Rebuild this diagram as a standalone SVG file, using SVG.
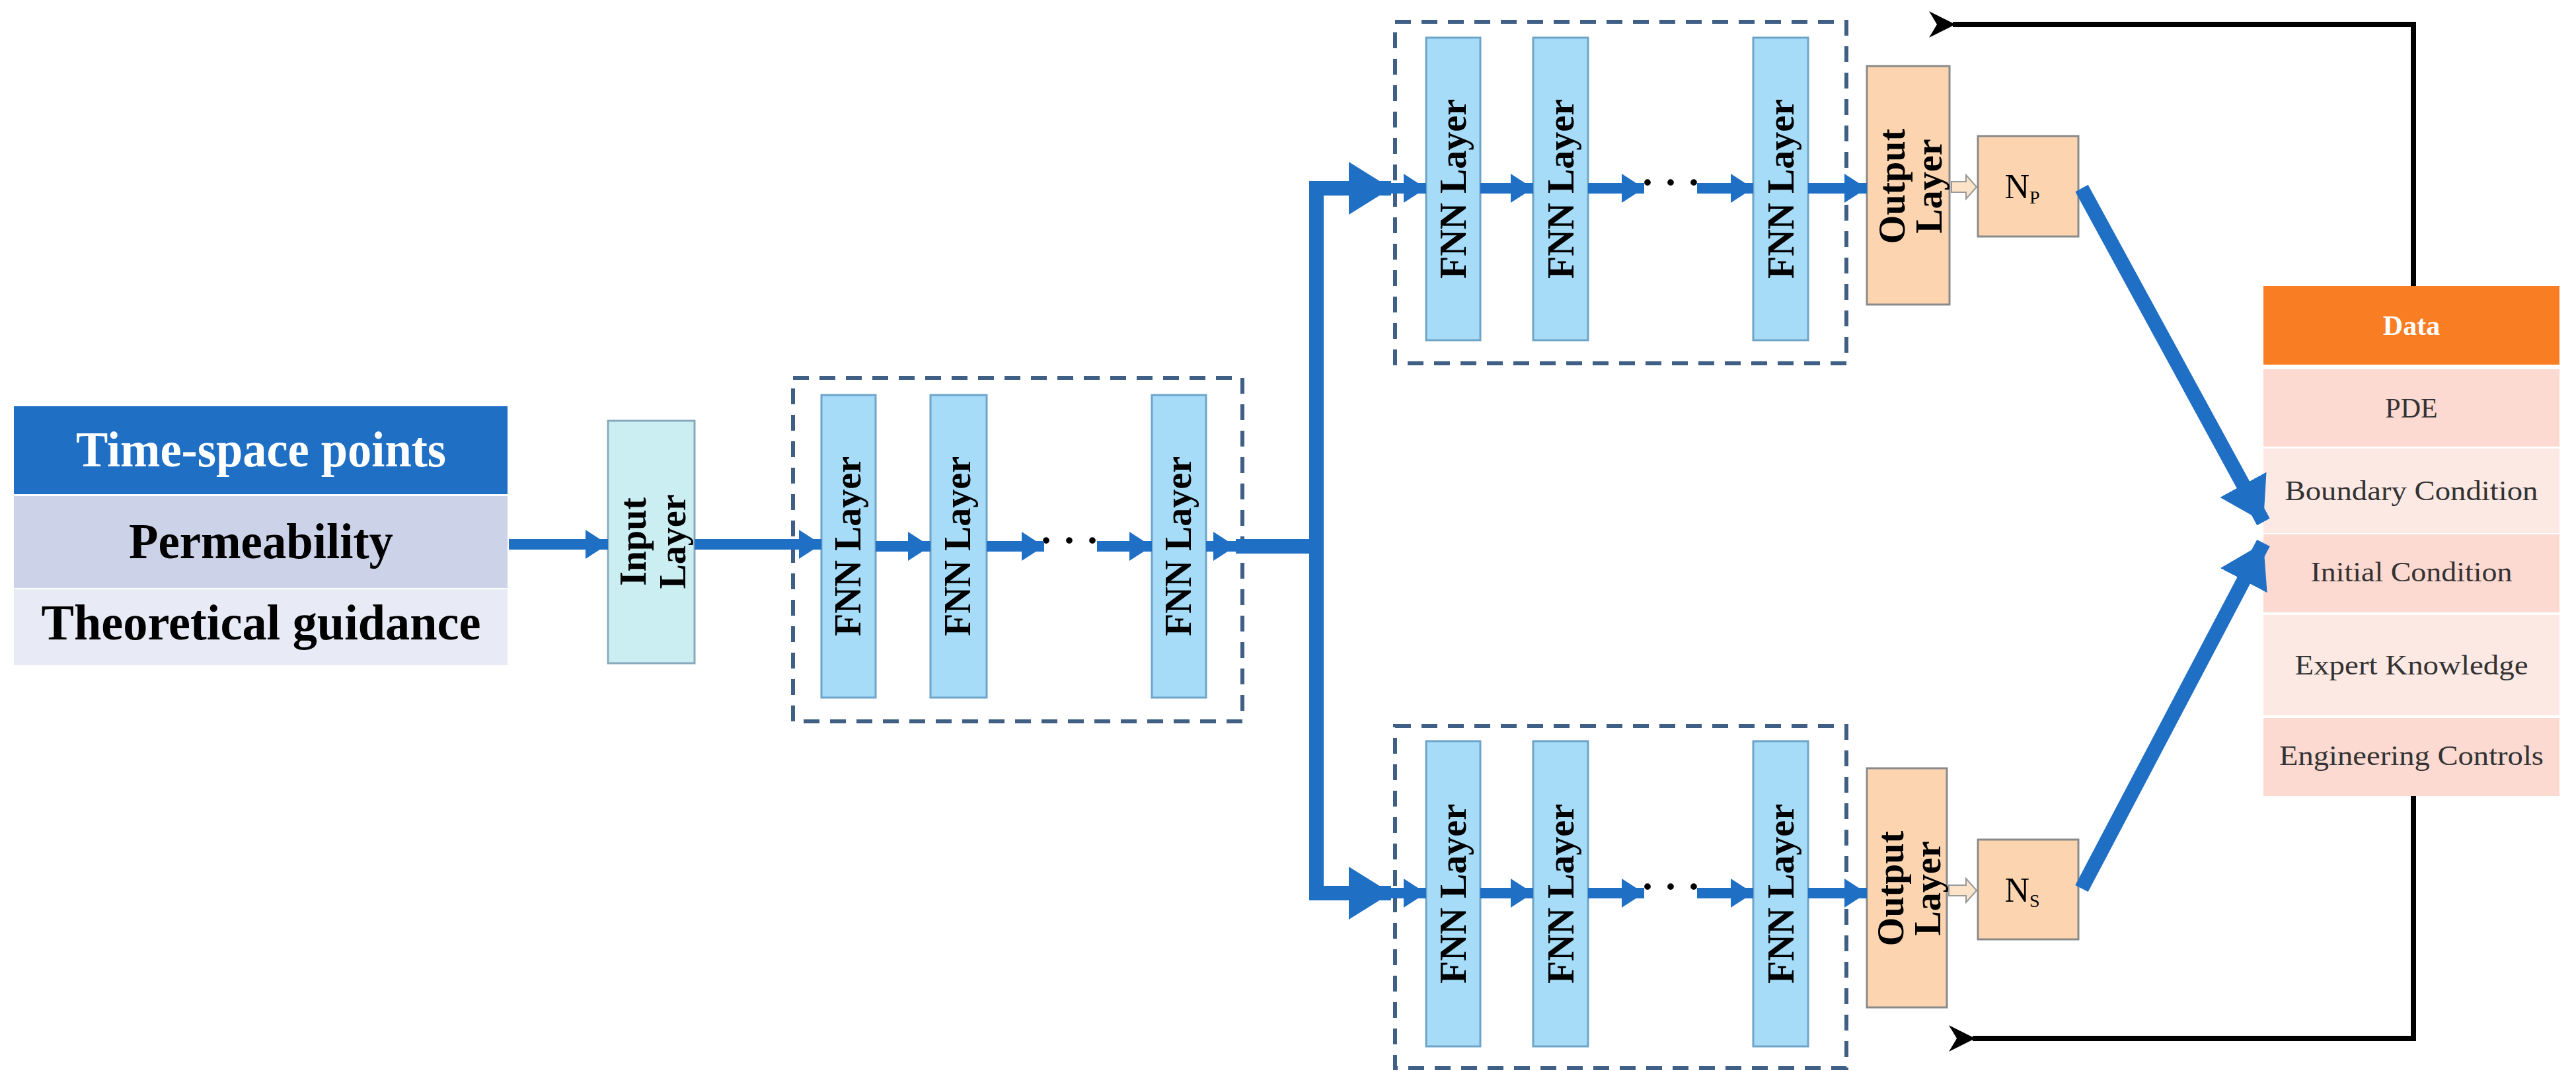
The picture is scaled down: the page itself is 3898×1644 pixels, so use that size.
<svg xmlns="http://www.w3.org/2000/svg" width="3898" height="1644" viewBox="0 0 3898 1644">
<style>
.serif{font-family:"Liberation Serif","Times New Roman",serif;}
.b{font-weight:bold;}
.fnn{fill:#a6dcf7;stroke:#6ea4c8;stroke-width:3;}
.fnnt{font-family:"Liberation Serif",serif;font-weight:bold;font-size:56px;fill:#000;}
.dash{fill:none;stroke:#3f5f85;stroke-width:6;stroke-dasharray:24,16;}
.out{fill:#fcd5b0;stroke:#8a8a8a;stroke-width:3;}
.flow{stroke:#1f6fc5;stroke-width:16;fill:none;}
.thick{stroke:#1f6fc5;stroke-width:22;fill:none;}
.fb{stroke:#000;stroke-width:8;fill:none;}
.row{font-family:"Liberation Serif",serif;font-size:42px;fill:#333;}
</style>
<defs>
<marker id="ah" markerUnits="userSpaceOnUse" markerWidth="40" markerHeight="44" refX="34" refY="22" orient="auto">
<path d="M0,0 L34,22 L0,44 Z" fill="#1f6fc5"/>
</marker>
<marker id="big" markerUnits="userSpaceOnUse" markerWidth="70" markerHeight="80" refX="64" refY="40" orient="auto">
<path d="M0,0 L64,40 L0,80 Z" fill="#1f6fc5"/>
</marker>
<marker id="blk" markerUnits="userSpaceOnUse" markerWidth="40" markerHeight="40" refX="4" refY="20" orient="auto">
<path d="M40,0 L0,20 L40,40 L28,20 Z" fill="#000"/>
</marker>
</defs>
<rect width="3898" height="1644" fill="#fff"/>

<g id="inputs">
<rect x="21" y="615" width="747" height="133" fill="#1f6fc5"/>
<rect x="21" y="751" width="747" height="139" fill="#ccd3e8"/>
<rect x="21" y="892" width="747" height="115" fill="#e8ebf5"/>
<text class="serif b" x="395" y="706" font-size="76" fill="#fff" text-anchor="middle" textLength="560" lengthAdjust="spacingAndGlyphs">Time-space points</text>
<text class="serif b" x="395" y="845" font-size="76" fill="#000" text-anchor="middle" textLength="400" lengthAdjust="spacingAndGlyphs">Permeability</text>
<text class="serif b" x="395" y="968" font-size="76" fill="#000" text-anchor="middle" textLength="665" lengthAdjust="spacingAndGlyphs">Theoretical guidance</text>
</g>

<g id="input-layer">
<rect x="920" y="637" width="131" height="367" fill="#cbeef2" stroke="#8ab" stroke-width="3"/>
<text class="fnnt" transform="translate(985,820) rotate(-90)" text-anchor="middle"><tspan x="0" y="-8">Input</tspan><tspan x="0" y="52">Layer</tspan></text>
</g>

<g id="shared-block">
<rect class="dash" x="1200" y="572" width="680" height="520"/>
<rect class="fnn" x="1243" y="598" width="82" height="458"/>
<rect class="fnn" x="1408" y="598" width="85" height="458"/>
<rect class="fnn" x="1743" y="598" width="82" height="458"/>
<text class="fnnt" transform="translate(1302,827) rotate(-90)" text-anchor="middle">FNN Layer</text>
<text class="fnnt" transform="translate(1468,827) rotate(-90)" text-anchor="middle">FNN Layer</text>
<text class="fnnt" transform="translate(1802,827) rotate(-90)" text-anchor="middle">FNN Layer</text>
<text x="1618" y="838" font-size="60" class="serif b" text-anchor="middle">· · ·</text>
</g>

<g id="p-block">
<rect class="dash" x="2111" y="33" width="683" height="517"/>
<rect class="fnn" x="2158" y="57" width="82" height="458"/>
<rect class="fnn" x="2320" y="57" width="83" height="458"/>
<rect class="fnn" x="2653" y="57" width="83" height="458"/>
<text class="fnnt" transform="translate(2218,286) rotate(-90)" text-anchor="middle">FNN Layer</text>
<text class="fnnt" transform="translate(2381,286) rotate(-90)" text-anchor="middle">FNN Layer</text>
<text class="fnnt" transform="translate(2714,286) rotate(-90)" text-anchor="middle">FNN Layer</text>
<text x="2528" y="296" font-size="60" class="serif b" text-anchor="middle">· · ·</text>
</g>

<g id="s-block">
<rect class="dash" x="2111" y="1099" width="683" height="518"/>
<rect class="fnn" x="2158" y="1122" width="82" height="462"/>
<rect class="fnn" x="2320" y="1122" width="83" height="462"/>
<rect class="fnn" x="2653" y="1122" width="83" height="462"/>
<text class="fnnt" transform="translate(2218,1353) rotate(-90)" text-anchor="middle">FNN Layer</text>
<text class="fnnt" transform="translate(2381,1353) rotate(-90)" text-anchor="middle">FNN Layer</text>
<text class="fnnt" transform="translate(2714,1353) rotate(-90)" text-anchor="middle">FNN Layer</text>
<text x="2528" y="1362" font-size="60" class="serif b" text-anchor="middle">· · ·</text>
</g>

<g id="output-p">
<rect class="out" x="2825" y="100" width="125" height="361"/>
<text class="fnnt" transform="translate(2890,282) rotate(-90)" text-anchor="middle"><tspan x="0" y="-8">Output</tspan><tspan x="0" y="48">Layer</tspan></text>
</g>
<g id="np">
<rect class="out" x="2993" y="206" width="152" height="152"/>
<text class="serif" x="3060" y="300" font-size="52" text-anchor="middle">N<tspan font-size="28" dy="8">P</tspan></text>
</g>
<g id="output-s">
<rect class="out" x="2825" y="1163" width="121" height="362"/>
<text class="fnnt" transform="translate(2888,1345) rotate(-90)" text-anchor="middle"><tspan x="0" y="-8">Output</tspan><tspan x="0" y="48">Layer</tspan></text>
</g>
<g id="ns">
<rect class="out" x="2993" y="1271" width="152" height="151"/>
<text class="serif" x="3060" y="1365" font-size="52" text-anchor="middle">N<tspan font-size="28" dy="8">S</tspan></text>
</g>

<g id="data">
<rect x="3425" y="433" width="448" height="119" fill="#f97d22"/>
<rect x="3425" y="559" width="448" height="117" fill="#fcd9d1"/>
<rect x="3425" y="679" width="448" height="128" fill="#fde9e4"/>
<rect x="3425" y="809" width="448" height="118" fill="#fcd9d1"/>
<rect x="3425" y="931" width="448" height="152" fill="#fde9e4"/>
<rect x="3425" y="1087" width="448" height="118" fill="#fcd9d1"/>
<text class="serif b" x="3649" y="507" font-size="42" fill="#fff" text-anchor="middle">Data</text>
<text class="row" x="3649" y="632" text-anchor="middle">PDE</text>
<text class="row" x="3649" y="757" text-anchor="middle" textLength="383" lengthAdjust="spacingAndGlyphs">Boundary Condition</text>
<text class="row" x="3649" y="880" text-anchor="middle" textLength="305" lengthAdjust="spacingAndGlyphs">Initial Condition</text>
<text class="row" x="3649" y="1021" text-anchor="middle" textLength="353" lengthAdjust="spacingAndGlyphs">Expert Knowledge</text>
<text class="row" x="3649" y="1158" text-anchor="middle" textLength="400" lengthAdjust="spacingAndGlyphs">Engineering Controls</text>
</g>

<g id="connectors">
<line class="flow" x1="770" y1="824" x2="920" y2="824" marker-end="url(#ah)"/>
<line class="flow" x1="1051" y1="824" x2="1243" y2="824" marker-end="url(#ah)"/>
<line class="flow" x1="1325" y1="827" x2="1408" y2="827" marker-end="url(#ah)"/>
<line class="flow" x1="1493" y1="827" x2="1580" y2="827" marker-end="url(#ah)"/>
<line class="flow" x1="1660" y1="827" x2="1743" y2="827" marker-end="url(#ah)"/>
<line class="flow" x1="1825" y1="827" x2="1870" y2="827" marker-end="url(#ah)"/>
<path class="thick" d="M1870,827 H1992 M1992,285 V1352"/>
<line class="thick" x1="1981" y1="285" x2="2105" y2="285" marker-end="url(#big)"/>
<line class="thick" x1="1981" y1="1352" x2="2105" y2="1352" marker-end="url(#big)"/>
<line class="flow" x1="2105" y1="285" x2="2158" y2="285" marker-end="url(#ah)"/>
<line class="flow" x1="2240" y1="285" x2="2320" y2="285" marker-end="url(#ah)"/>
<line class="flow" x1="2403" y1="285" x2="2488" y2="285" marker-end="url(#ah)"/>
<line class="flow" x1="2568" y1="285" x2="2653" y2="285" marker-end="url(#ah)"/>
<line class="flow" x1="2736" y1="285" x2="2825" y2="285" marker-end="url(#ah)"/>
<line class="flow" x1="2105" y1="1352" x2="2158" y2="1352" marker-end="url(#ah)"/>
<line class="flow" x1="2240" y1="1352" x2="2320" y2="1352" marker-end="url(#ah)"/>
<line class="flow" x1="2403" y1="1352" x2="2488" y2="1352" marker-end="url(#ah)"/>
<line class="flow" x1="2568" y1="1352" x2="2653" y2="1352" marker-end="url(#ah)"/>
<line class="flow" x1="2736" y1="1352" x2="2825" y2="1352" marker-end="url(#ah)"/>
<path d="M2953,275 h22 v-10 l16,18 l-16,18 v-10 h-22 Z" fill="#fde3c8" stroke="#999" stroke-width="2"/>
<path d="M2949,1340 h26 v-10 l16,18 l-16,18 v-10 h-26 Z" fill="#fde3c8" stroke="#999" stroke-width="2"/>
<line class="thick" x1="3150" y1="285" x2="3425" y2="790" marker-end="url(#big)"/>
<line class="thick" x1="3150" y1="1345" x2="3425" y2="822" marker-end="url(#big)"/>
<path class="fb" d="M3652,433 V37 H2955" marker-end="url(#blk)"/>
<path class="fb" d="M3652,1205 V1572 H2985" marker-end="url(#blk)"/>
</g>
</svg>
